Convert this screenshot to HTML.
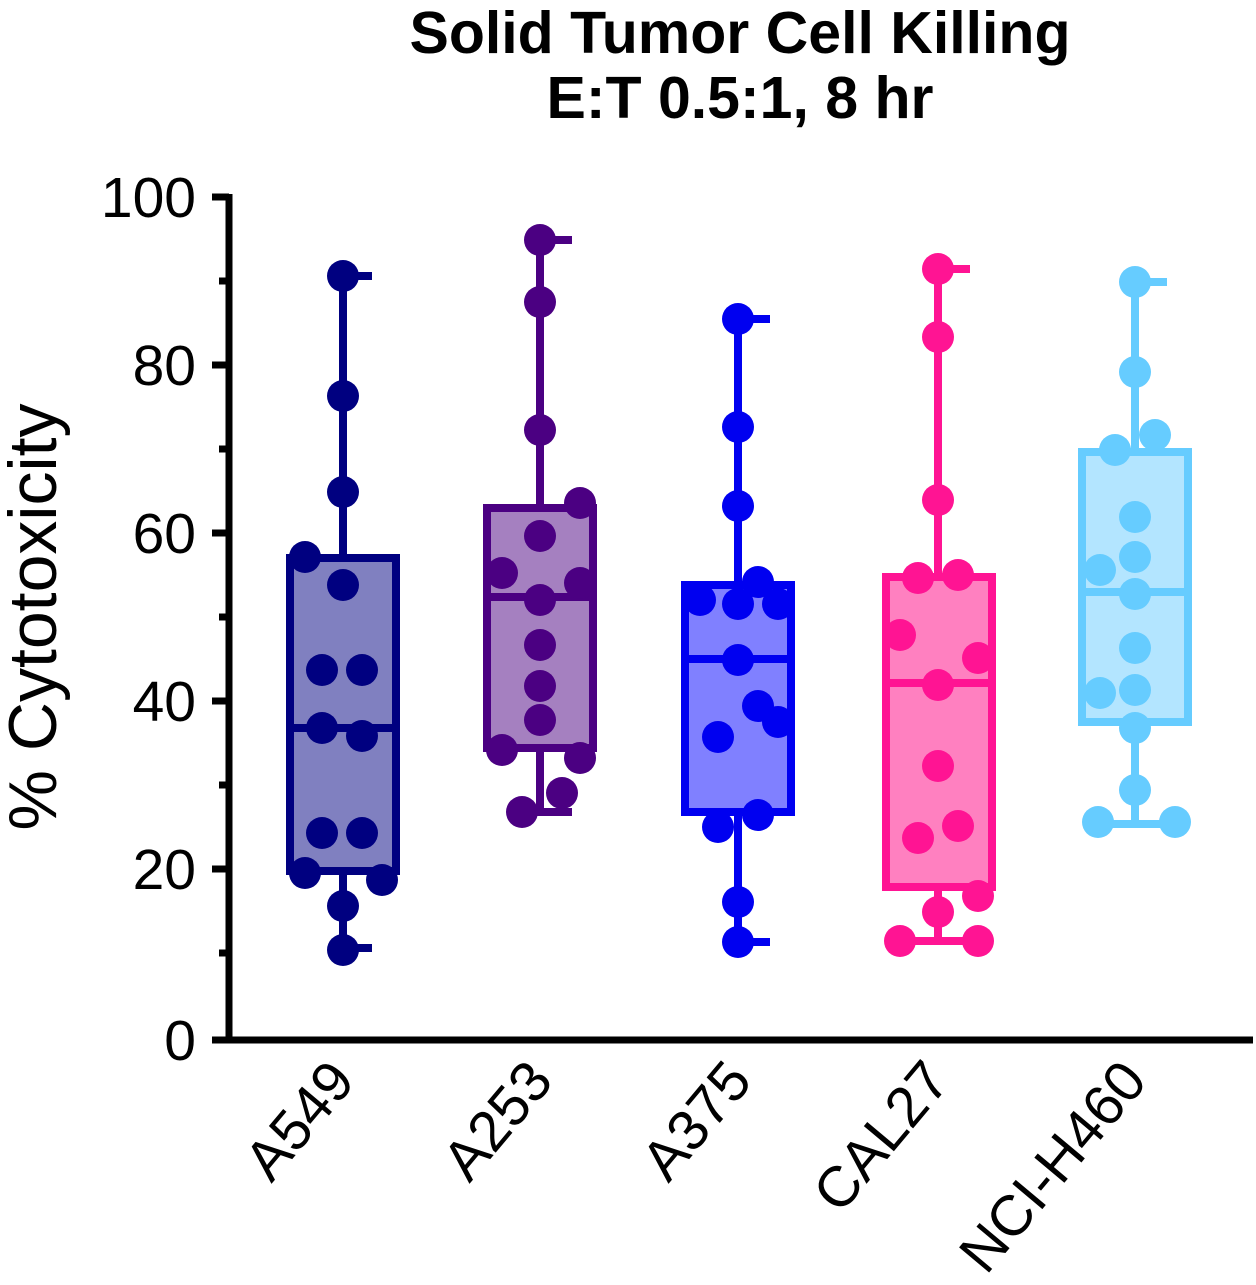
<!DOCTYPE html>
<html><head><style>body{margin:0;background:#fff}</style></head><body>
<svg width="1256" height="1280" viewBox="0 0 1256 1280" xmlns="http://www.w3.org/2000/svg" font-family="Liberation Sans, Arial, sans-serif">
<text x="740" y="53" font-size="59" font-weight="bold" text-anchor="middle">Solid Tumor Cell Killing</text>
<text x="740" y="118" font-size="59" font-weight="bold" text-anchor="middle">E:T 0.5:1, 8 hr</text>
<text transform="translate(56,617) rotate(-90)" font-size="68" text-anchor="middle">% Cytotoxicity</text>
<g stroke="#000" stroke-width="7">
<line x1="229" y1="194" x2="229" y2="1041"/>
<line x1="212" y1="1040" x2="1253" y2="1040"/>
<line x1="212" y1="197" x2="229" y2="197"/>
<line x1="212" y1="365" x2="229" y2="365"/>
<line x1="212" y1="533" x2="229" y2="533"/>
<line x1="212" y1="701" x2="229" y2="701"/>
<line x1="212" y1="869" x2="229" y2="869"/>
<line x1="219" y1="281" x2="229" y2="281"/>
<line x1="219" y1="449" x2="229" y2="449"/>
<line x1="219" y1="617" x2="229" y2="617"/>
<line x1="219" y1="785" x2="229" y2="785"/>
<line x1="219" y1="953" x2="229" y2="953"/>
</g>
<g font-size="57" text-anchor="end">
<text x="196" y="217">100</text><text x="196" y="385">80</text><text x="196" y="553">60</text>
<text x="196" y="721">40</text><text x="196" y="889">20</text><text x="196" y="1060">0</text>
</g>
<g font-size="57" text-anchor="end">
<text transform="translate(357,1082) rotate(-50)">A549</text>
<text transform="translate(555,1082) rotate(-50)">A253</text>
<text transform="translate(754,1082) rotate(-50)">A375</text>
<text transform="translate(952,1082) rotate(-50)">CAL27</text>
<text transform="translate(1149,1082) rotate(-50)">NCI-H460</text>
</g>
<!-- A549 -->
<g stroke="#000080" stroke-width="8" fill="#000080">
<line x1="343" y1="276" x2="343" y2="948"/><line x1="343" y1="276" x2="372" y2="276"/><line x1="343" y1="948" x2="372" y2="948"/>
<rect x="290" y="558" width="106" height="313" fill="#8080c0"/>
<line x1="290" y1="728" x2="396" y2="728"/>
</g>
<g fill="#000080">
<circle cx="343" cy="276" r="16"/><circle cx="343" cy="396" r="16"/><circle cx="343" cy="492" r="16"/><circle cx="305" cy="557" r="16"/><circle cx="343" cy="585" r="16"/><circle cx="322" cy="670" r="16"/><circle cx="362" cy="670" r="16"/><circle cx="322" cy="728" r="16"/><circle cx="362" cy="736" r="16"/><circle cx="322" cy="833" r="16"/><circle cx="362" cy="833" r="16"/><circle cx="305" cy="873" r="16"/><circle cx="382" cy="880" r="16"/><circle cx="343" cy="906" r="16"/><circle cx="343" cy="950" r="16"/>
</g>
<!-- A253 -->
<g stroke="#4b0082" stroke-width="8" fill="#4b0082">
<line x1="540" y1="240" x2="540" y2="812"/><line x1="540" y1="240" x2="572" y2="240"/><line x1="522" y1="812" x2="572" y2="812"/>
<rect x="487" y="508" width="106" height="240" fill="#a580c0"/>
<line x1="487" y1="597" x2="593" y2="597"/>
</g>
<g fill="#4b0082">
<circle cx="540" cy="240" r="16"/><circle cx="540" cy="302" r="16"/><circle cx="540" cy="430" r="16"/><circle cx="580" cy="503" r="16"/><circle cx="540" cy="536" r="16"/><circle cx="502" cy="573" r="16"/><circle cx="580" cy="583" r="16"/><circle cx="540" cy="600" r="16"/><circle cx="540" cy="645" r="16"/><circle cx="540" cy="686" r="16"/><circle cx="540" cy="720" r="16"/><circle cx="502" cy="750" r="16"/><circle cx="580" cy="758" r="16"/><circle cx="562" cy="793" r="16"/><circle cx="522" cy="812" r="16"/>
</g>
<!-- A375 -->
<g stroke="#0000f0" stroke-width="8" fill="#0000f0">
<line x1="738" y1="319" x2="738" y2="942"/><line x1="738" y1="319" x2="770" y2="319"/><line x1="738" y1="942" x2="770" y2="942"/>
<rect x="685" y="585" width="106" height="227" fill="#8080ff"/>
<line x1="685" y1="659" x2="791" y2="659"/>
</g>
<g fill="#0000f0">
<circle cx="738" cy="319" r="16"/><circle cx="738" cy="427" r="16"/><circle cx="738" cy="506" r="16"/><circle cx="758" cy="582" r="16"/><circle cx="700" cy="600" r="16"/><circle cx="738" cy="604" r="16"/><circle cx="778" cy="604" r="16"/><circle cx="738" cy="660" r="16"/><circle cx="758" cy="706" r="16"/><circle cx="778" cy="722" r="16"/><circle cx="718" cy="737" r="16"/><circle cx="758" cy="815" r="16"/><circle cx="718" cy="827" r="16"/><circle cx="738" cy="902" r="16"/><circle cx="738" cy="942" r="16"/>
</g>
<!-- CAL27 -->
<g stroke="#ff1493" stroke-width="8" fill="#ff1493">
<line x1="938" y1="269" x2="938" y2="941"/><line x1="938" y1="269" x2="970" y2="269"/><line x1="900" y1="941" x2="978" y2="941"/>
<rect x="886" y="577" width="106" height="310" fill="#ff80c0"/>
<line x1="886" y1="683" x2="992" y2="683"/>
</g>
<g fill="#ff1493">
<circle cx="938" cy="269" r="16"/><circle cx="938" cy="337" r="16"/><circle cx="938" cy="500" r="16"/><circle cx="918" cy="578" r="16"/><circle cx="958" cy="575" r="16"/><circle cx="900" cy="635" r="16"/><circle cx="978" cy="658" r="16"/><circle cx="938" cy="685" r="16"/><circle cx="938" cy="766" r="16"/><circle cx="918" cy="838" r="16"/><circle cx="958" cy="826" r="16"/><circle cx="978" cy="896" r="16"/><circle cx="938" cy="912" r="16"/><circle cx="900" cy="941" r="16"/><circle cx="978" cy="941" r="16"/>
</g>
<!-- NCI-H460 -->
<g stroke="#66ccff" stroke-width="8" fill="#66ccff">
<line x1="1135" y1="282" x2="1135" y2="824"/><line x1="1135" y1="282" x2="1167" y2="282"/><line x1="1098" y1="824" x2="1175" y2="824"/>
<rect x="1082" y="452" width="106" height="270" fill="#b3e5ff"/>
<line x1="1082" y1="592" x2="1188" y2="592"/>
</g>
<g fill="#66ccff">
<circle cx="1135" cy="282" r="16"/><circle cx="1135" cy="372" r="16"/><circle cx="1115" cy="450" r="16"/><circle cx="1155" cy="435" r="16"/><circle cx="1135" cy="517" r="16"/><circle cx="1100" cy="570" r="16"/><circle cx="1135" cy="557" r="16"/><circle cx="1135" cy="594" r="16"/><circle cx="1135" cy="648" r="16"/><circle cx="1100" cy="693" r="16"/><circle cx="1135" cy="690" r="16"/><circle cx="1135" cy="728" r="16"/><circle cx="1135" cy="790" r="16"/><circle cx="1098" cy="822" r="16"/><circle cx="1175" cy="822" r="16"/>
</g>
</svg>
</body></html>
